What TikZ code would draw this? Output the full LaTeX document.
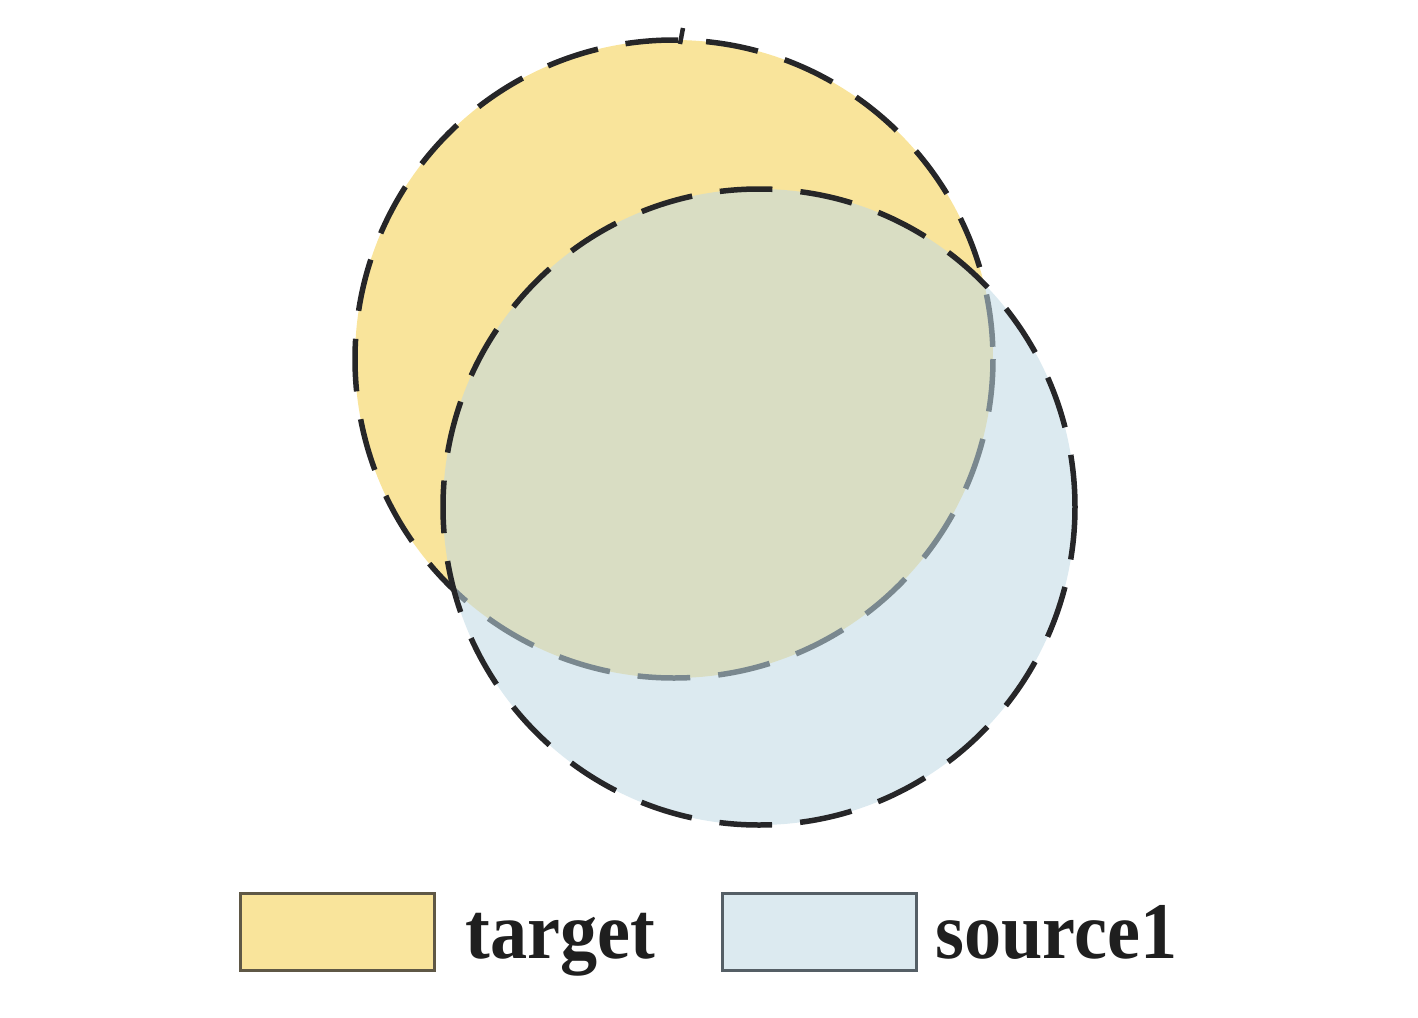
\documentclass[tikz,border=0pt]{standalone}
\usepackage{fontspec}
\setmainfont{Liberation Serif}
\begin{document}
\begin{tikzpicture}[x=0.02cm,y=-0.02cm]
\definecolor{tyellow}{RGB}{249,228,155}
\definecolor{sblue}{RGB}{191,217,228}
\definecolor{sbluelight}{RGB}{220,234,240}
\definecolor{dashdark}{RGB}{38,38,40}
\definecolor{ybord}{RGB}{95,88,70}
\definecolor{bbord}{RGB}{85,95,102}
\tikzset{
  dashline/.style={line width=0.11cm, dash pattern=on 30pt off 16pt, draw=dashdark},
  legbox/.style={draw, line width=0.06cm, minimum width=3.9cm, minimum height=1.54cm, inner sep=0pt},
  legtext/.style={font=\fontsize{44}{50}\selectfont\bfseries, text=black!88, xscale=0.96, yscale=1.04, anchor=base west, inner sep=0pt}
}
\useasboundingbox (0,0) rectangle (1418,1018);
% target set (yellow)
\path[fill=tyellow, dashline] (674,359) ellipse [x radius=319, y radius=319];
% source1 set (blue, semi-transparent, drawn over)
\fill[sblue, fill opacity=0.55] (759,507) ellipse [x radius=316, y radius=318];
\draw[dashline] (759,507) ellipse [x radius=316, y radius=318];
% small top tick
\coordinate (tickA) at (683,28);
\coordinate (tickB) at (680,44);
\draw[line width=0.09cm, dashdark] (tickA) -- (tickB);
% legend
\node[legbox, draw=ybord, fill=tyellow] (legT) at (337.5,931.5) {};
\node[legtext] (labT) at (465,958) {target};
\node[legbox, draw=bbord, fill=sbluelight] (legS) at (819.5,931.5) {};
\node[legtext] (labS) at (935,958) {source1};
\end{tikzpicture}
\end{document}
